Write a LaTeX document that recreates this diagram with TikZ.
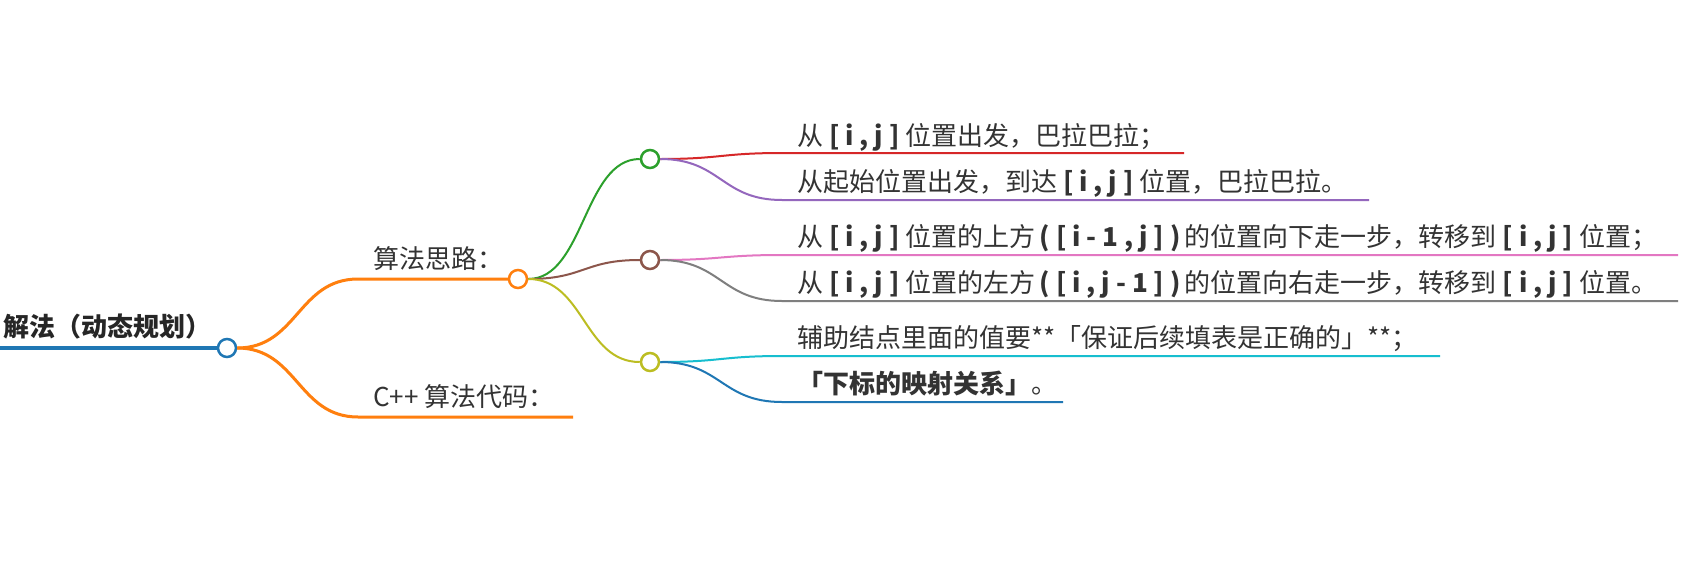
\documentclass[tikz,border=0pt]{standalone}
\usepackage{fontspec}
\setmainfont{Noto Sans CJK SC}
\usetikzlibrary{calc}
\definecolor{cblue}{HTML}{1F77B4}
\definecolor{corange}{HTML}{FF7F0E}
\definecolor{cgreen}{HTML}{2CA02C}
\definecolor{cred}{HTML}{D62728}
\definecolor{cpurple}{HTML}{9467BD}
\definecolor{cbrown}{HTML}{8C564B}
\definecolor{cpink}{HTML}{E377C2}
\definecolor{cgray}{HTML}{7F7F7F}
\definecolor{colive}{HTML}{BCBD22}
\definecolor{ccyan}{HTML}{17BECF}
\definecolor{textgray}{HTML}{333333}
\tikzset{
  txt/.style={anchor=base west, inner sep=0pt, text=textgray, font=\fontsize{26}{30}\selectfont},
  roottxt/.style={anchor=base west, inner sep=0pt, text=black!85, font=\fontsize{26}{30}\selectfont\bfseries},
  hub/.style={circle, draw, fill=white, line width=2.5pt, minimum size=18pt, inner sep=0pt},
  rootline/.style={line width=4pt},
  midline/.style={line width=3pt},
  leafline/.style={line width=2pt},
}
\begin{document}
\begin{tikzpicture}[x=1pt,y=-1pt]
\fill[white] (0,0) rectangle (1697,560);
\useasboundingbox (0,0) rectangle (1697,560);

% hubs
\node[hub, draw=cblue] (root) at (227,348) {};
\node[hub, draw=corange] (n1) at (518,279) {};
\node[hub, draw=cgreen] (g) at (650,159) {};
\node[hub, draw=cbrown] (b) at (650,260) {};
\node[hub, draw=colive] (o) at (650,362) {};

% root
\coordinate (rootL) at (0,348);
\draw[cblue, rootline] (rootL) -- (root.west);
\node[roottxt] (roottext) at (3,336) {解法（动态规划）};

% level 1
\coordinate (a1) at (358,279);
\coordinate (a2) at (358,417);
\coordinate (a2e) at (573,417);
\draw[corange, midline] (root.east) .. controls +(60,0) and +(-60,0) .. (a1) -- (n1.west);
\draw[corange, midline] (root.east) .. controls +(60,0) and +(-60,0) .. (a2) -- (a2e);
\node[txt] (t1) at (373,268) {算法思路：};
\node[txt] (t2) at (373,406) {C++ 算法代码：};

% level 2
\draw[cgreen, leafline] (n1.east) .. controls +(56,0) and +(-56,0) .. (g.west);
\draw[cbrown, leafline] (n1.east) .. controls +(56,0) and +(-56,0) .. (b.west);
\draw[colive, leafline] (n1.east) .. controls +(56,0) and +(-56,0) .. (o.west);

% level 3 coordinates
\coordinate (l1) at (782,153); \coordinate (l1e) at (1184,153);
\coordinate (l2) at (782,200); \coordinate (l2e) at (1369,200);
\coordinate (l3) at (782,255); \coordinate (l3e) at (1678,255);
\coordinate (l4) at (782,301); \coordinate (l4e) at (1678,301);
\coordinate (l5) at (782,356); \coordinate (l5e) at (1440,356);
\coordinate (l6) at (782,402); \coordinate (l6e) at (1063,402);

\draw[cred, leafline] (g.east) .. controls +(61,0) and +(-61,0) .. (l1) -- (l1e);
\draw[cpurple, leafline] (g.east) .. controls +(61,0) and +(-61,0) .. (l2) -- (l2e);
\draw[cpink, leafline] (b.east) .. controls +(61,0) and +(-61,0) .. (l3) -- (l3e);
\draw[cgray, leafline] (b.east) .. controls +(61,0) and +(-61,0) .. (l4) -- (l4e);
\draw[ccyan, leafline] (o.east) .. controls +(61,0) and +(-61,0) .. (l5) -- (l5e);
\draw[cblue, leafline] (o.east) .. controls +(61,0) and +(-61,0) .. (l6) -- (l6e);

\node[txt] (x1) at (797,145) {从 \textbf{[ i , j ]} 位置出发，巴拉巴拉；};
\node[txt] (x2) at (797,191) {从起始位置出发，到达 \textbf{[ i , j ]} 位置，巴拉巴拉。};
\node[txt] (x3) at (797,246) {从 \textbf{[ i , j ]} 位置的上方\,\textbf{( [ i - 1 , j ] )}\,的位置向下走一步，转移到 \textbf{[ i , j ]} 位置；};
\node[txt] (x4) at (797,292) {从 \textbf{[ i , j ]} 位置的左方\,\textbf{( [ i , j - 1 ] )}\,的位置向右走一步，转移到 \textbf{[ i , j ]} 位置。};
\node[txt] (x5) at (797,347) {辅助结点里面的值要**「保证后续填表是正确的」**；};
\node[txt] (x6) at (797,393) {\textbf{「下标的映射关系」}。};
\end{tikzpicture}
\end{document}
